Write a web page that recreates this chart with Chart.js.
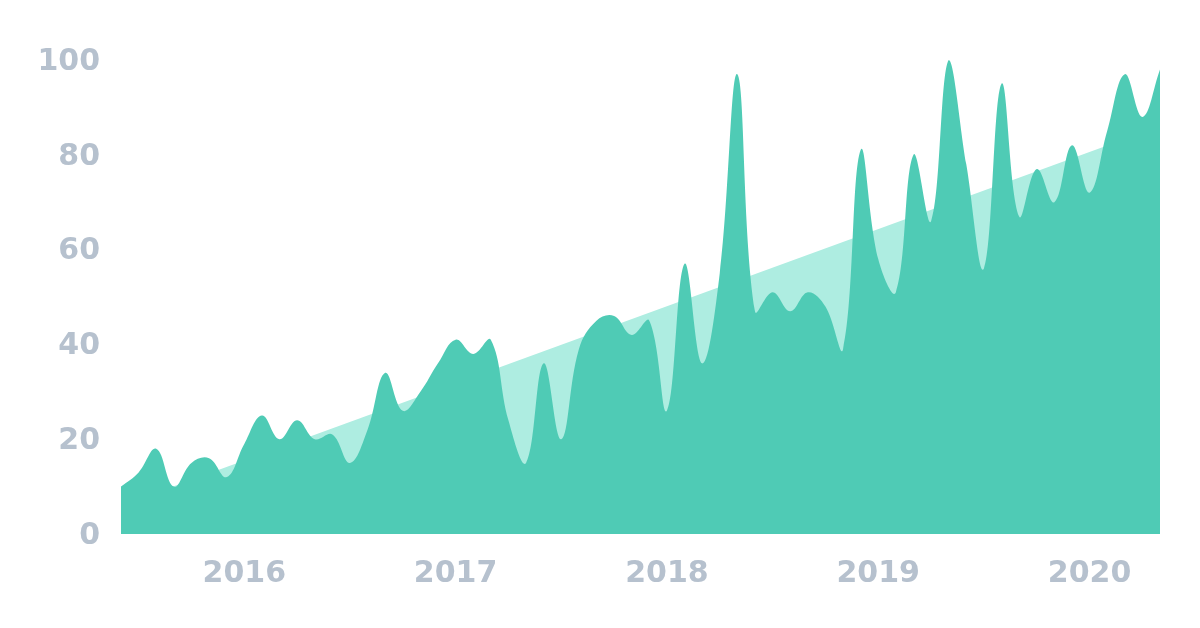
<!DOCTYPE html>
<html>
<head>
<meta charset="utf-8">
<title>Trend</title>
<script src="https://cdn.jsdelivr.net/npm/chart.js@4/dist/chart.umd.min.js"></script>
<style>
  html, body { margin: 0; padding: 0; background: #fff; }
  #wrap { width: 1200px; height: 628px; }
</style>
</head>
<body>
<div id="wrap"><canvas id="grafico"></canvas></div>
<script>
// monthly values, Jun 2015 .. May 2020
const interest = [
  10, 13, 18, 10, 15, 16, 12, 19, 25, 20,
  24, 20, 21, 15, 22, 34, 26, 30, 36, 41,
  38, 41, 24, 15, 36, 20, 39, 45, 46, 42,
  45, 26, 57, 36, 55, 97, 47, 51, 47, 51,
  48, 39, 81, 58, 51, 80, 66, 100, 78, 56,
  95, 67, 77, 70, 82, 72, 85, 97, 88, 98
];
// straight trend line, start and end
const trendStart = 6;
const trendEnd = 86;
const yearTicks = [7, 19, 31, 43, 55];
const yearLabels = ["2016", "2017", "2018", "2019", "2020"];

const points = interest.map((v, i) => ({ x: i, y: v }));
const trend = [{ x: 0, y: trendStart }, { x: interest.length - 1, y: trendEnd }];

const gris = "#b6c1ce";
const fuente = { family: "DejaVu Sans", size: 30, weight: "bold" };

new Chart(document.getElementById("grafico"), {
  type: "line",
  data: {
    datasets: [
      {
        label: "Interés",
        data: points,
        fill: "origin",
        backgroundColor: "#4fcbb5",
        borderWidth: 0,
        pointRadius: 0,
        tension: 0.4,
        order: 1
      },
      {
        label: "Tendencia",
        data: trend,
        fill: "origin",
        backgroundColor: "#aeede1",
        borderWidth: 0,
        pointRadius: 0,
        tension: 0,
        order: 2
      }
    ]
  },
  options: {
    responsive: true,
    maintainAspectRatio: false,
    animation: false,
    layout: { padding: { top: 60, right: 40, left: 0, bottom: 0 } },
    plugins: {
      legend: { display: false },
      tooltip: { enabled: false }
    },
    scales: {
      x: {
        type: "linear",
        min: 0,
        max: interest.length - 1,
        grid: { display: false, drawTicks: false },
        border: { display: false },
        afterBuildTicks: scale => {
          scale.ticks = yearTicks.map(v => ({ value: v }));
        },
        afterFit: scale => { scale.height = 94; },
        ticks: {
          color: gris,
          font: fuente,
          padding: 22,
          maxRotation: 0,
          callback: v => yearLabels[yearTicks.indexOf(v)]
        }
      },
      y: {
        min: 0,
        max: 100,
        grid: { display: false, drawTicks: false },
        border: { display: false },
        afterFit: scale => { scale.width = 121; },
        ticks: {
          stepSize: 20,
          color: gris,
          font: fuente,
          padding: 21,
          labelOffset: 2
        }
      }
    }
  }
});
</script>
</body>
</html>
